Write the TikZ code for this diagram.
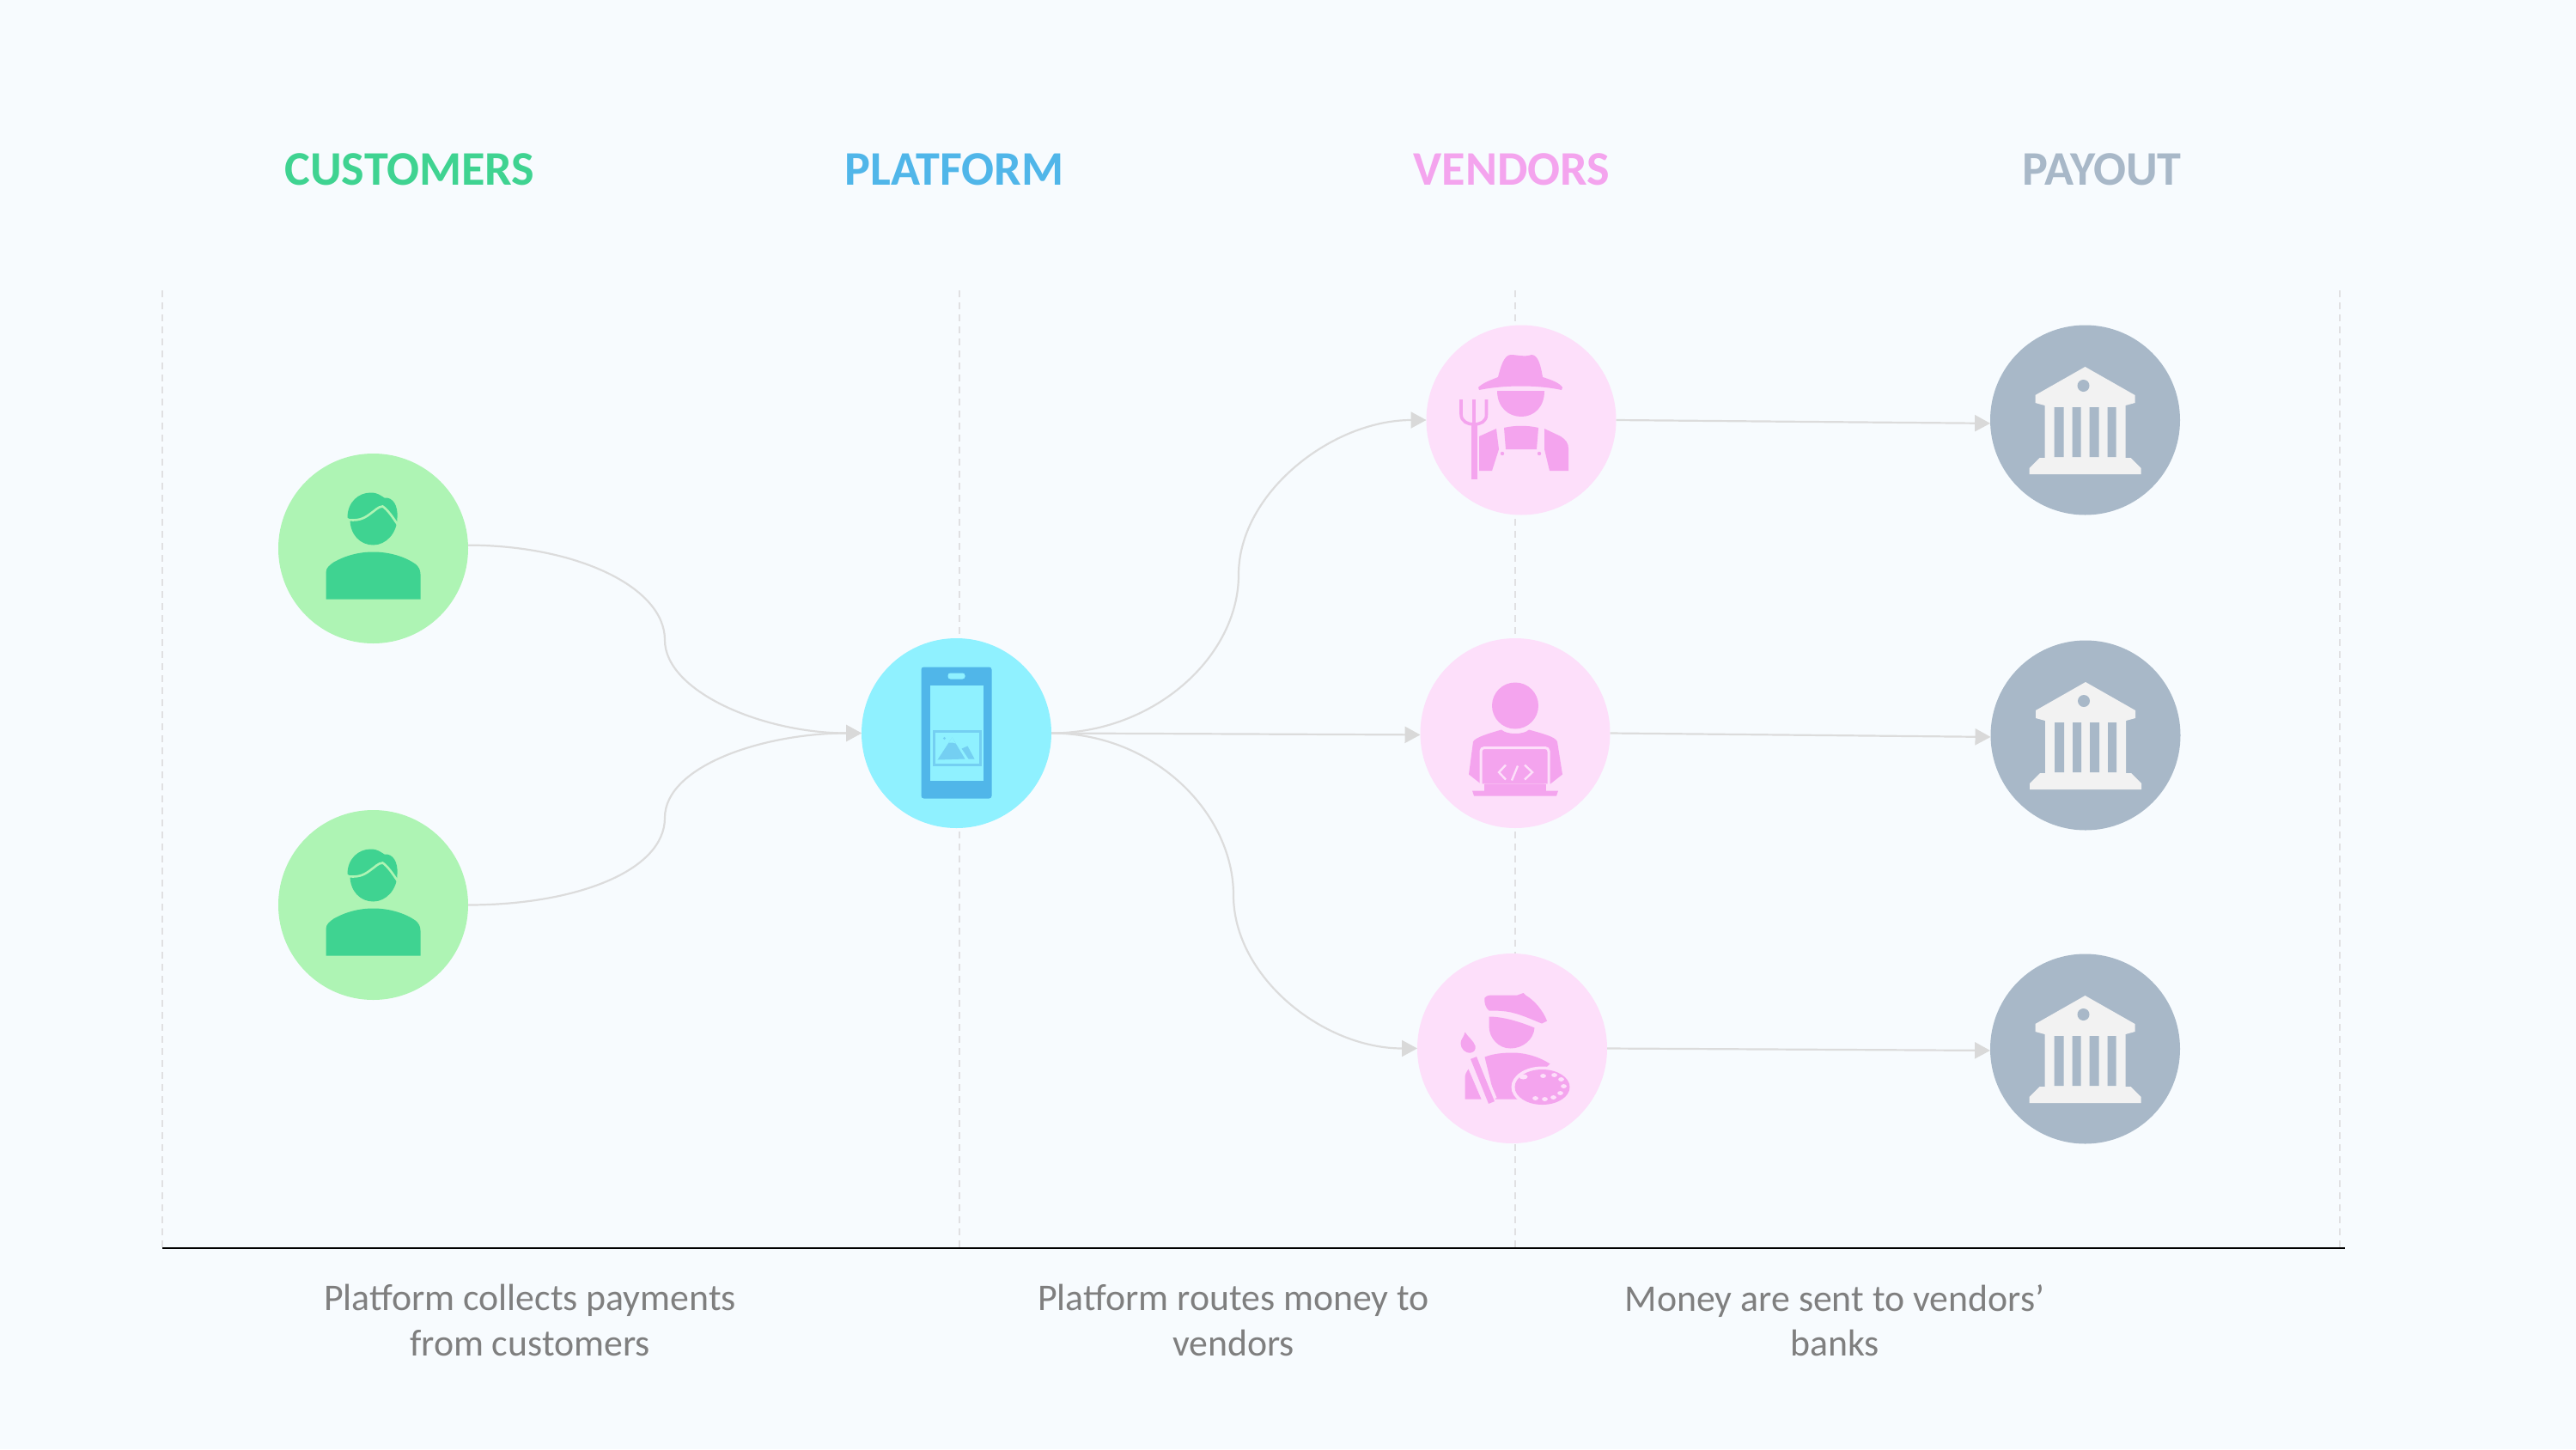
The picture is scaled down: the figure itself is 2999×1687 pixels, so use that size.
\documentclass[tikz,border=0pt]{standalone}
\usepackage{fontspec}
\setmainfont{Carlito}
\usetikzlibrary{arrows.meta,calc}
\definecolor{bgc}{HTML}{F7FBFE}
\definecolor{gcirc}{HTML}{AEF4B4}
\definecolor{gicon}{HTML}{3FD391}
\definecolor{ccirc}{HTML}{8FF1FF}
\definecolor{bicon}{HTML}{50B6E9}
\definecolor{bmid}{HTML}{74CFF2}
\definecolor{pcirc}{HTML}{FDDFFA}
\definecolor{picon}{HTML}{F4A4EE}
\definecolor{slate}{HTML}{A8B8C8}
\definecolor{bankw}{HTML}{F2F2F2}
\definecolor{conn}{HTML}{DCDCDC}
\definecolor{dashc}{HTML}{D9D9D9}
\definecolor{guidec}{HTML}{E0E0E2}
\definecolor{txtc}{HTML}{7F7F7F}
\tikzset{
  disc/.style={circle,minimum size=221pt,inner sep=0pt,outer sep=0pt,fill=#1},
  flow/.style={draw=conn,line width=2.2pt,-{Triangle[length=18pt,width=19pt,color=dashc]}},
  guide/.style={draw=guidec,line width=1.8pt,dash pattern=on 8pt off 6pt},
  head/.style={font=\fontsize{56.2}{60}\selectfont\bfseries,anchor=center},
  note/.style={font=\fontsize{43.8}{52.5}\selectfont,text=txtc,align=center,anchor=center},
  person/.pic={
    \fill[gicon] (-55,59)--(-55,28) .. controls (-55,22) and (-50,19) .. (-46,16)
      .. controls (-32,8) and (-16,4) .. (0,4) .. controls (18,4) and (36,9) .. (49,18)
      .. controls (53,21) and (55,25) .. (55,30) -- (55,59) -- cycle;
    \fill[gicon] (-30,-36) .. controls (-30,-54) and (-17,-65) .. (-3,-65)
      .. controls (5,-65) and (8,-62) .. (13,-59) .. controls (23,-60) and (29,-50) .. (28,-36)
      .. controls (28,-18) and (15,-4) .. (0,-4) .. controls (-15,-4) and (-27,-16) .. (-27,-34) -- cycle;
    \draw[gcirc,line width=2.6pt] (-32,-33.5) .. controls (-18,-32) and (-12,-34) .. (-4,-40)
      .. controls (2,-44) and (6,-49) .. (11,-49) .. controls (17,-45) and (23,-36) .. (29,-27);
  },
  bank/.pic={
    \fill[bankw] (0,-62) -- (58,-29) -- (58,-20) -- (47,-17) -- (47,44) -- (53,44) -- (65,56) -- (65,63)
      -- (-65,63) -- (-65,56) -- (-53,44) -- (-47,44) -- (-47,-17) -- (-58,-20) -- (-58,-29) -- cycle;
    \fill[slate] (-2,-40) circle (7);
    \fill[slate] (-36,-15) rectangle (-25,43) (-15,-15) rectangle (-5,43) (5,-15) rectangle (16,43) (26,-15) rectangle (36,43);
  }
}
\begin{document}
\begin{tikzpicture}[x=1pt,y=-1pt]
\useasboundingbox[fill=bgc] (0,0) rectangle (2999,1687);
% guides
\coordinate (ga) at (189,338); \coordinate (gaa) at (189,1453);
\coordinate (gb) at (1117,338); \coordinate (gbb) at (1117,1453);
\coordinate (gc) at (1764,338); \coordinate (gcc) at (1764,1453);
\coordinate (gd) at (2724,338); \coordinate (gdd) at (2724,1453);
\draw[guide] (ga)--(gaa); \draw[guide] (gb)--(gbb); \draw[guide] (gc)--(gcc); \draw[guide] (gd)--(gdd);
\coordinate (bl) at (189,1453); \coordinate (br) at (2730,1453);
\draw[black,line width=2.6pt] (bl)--(br);
% discs
\node[disc=gcirc] (c1) at (434.5,638.5) {};
\node[disc=gcirc] (c2) at (434.5,1053.5) {};
\node[disc=ccirc] (pf) at (1113.5,853.5) {};
\node[disc=pcirc] (v1) at (1771,489) {};
\node[disc=pcirc] (v2) at (1764,853.5) {};
\node[disc=pcirc] (v3) at (1760.5,1220.5) {};
\node[disc=slate] (b1) at (2427.5,489) {};
\node[disc=slate] (b2) at (2428,856) {};
\node[disc=slate] (b3) at (2427.5,1221) {};
% connectors
\coordinate (k1) at (774,745); \coordinate (k2) at (774,952);
\coordinate (k3) at (1442,669); \coordinate (k4) at (1436,1042);
\draw[flow] (c1.2.3) .. controls +(125,0) and ($(k1)+(0,-62)$) .. (k1) .. controls ($(k1)+(0,60)$) and +(-115,0) .. (pf.west);
\draw[flow] (c2.east) .. controls +(125,0) and ($(k2)+(0,62)$) .. (k2) .. controls ($(k2)+(0,-60)$) and +(-115,0) .. (pf.west);
\draw[flow] (pf.east) .. controls +(120,0) and ($(k3)+(0,95)$) .. (k3) .. controls ($(k3)+(0,-95)$) and +(-110,0) .. (v1.west);
\draw[flow] (pf.east) -- (v2.-179);
\draw[flow] (pf.east) .. controls +(120,0) and ($(k4)+(0,-95)$) .. (k4) .. controls ($(k4)+(0,95)$) and +(-110,0) .. (v3.west);
\draw[flow] (v1.east) -- (b1.-178.5);
\draw[flow] (v2.east) -- (b2.-179);
\draw[flow] (v3.east) -- (b3.-179.5);
% customers
\pic at (c1) {person};
\pic at (c2) {person};
% phone
\begin{scope}[shift={(pf)}]
\fill[bicon,rounded corners=3pt] (-41,-77) rectangle (41,76);
\fill[ccirc] (-31,-56) rectangle (31,55);
\fill[ccirc,rounded corners=3pt] (-10,-70) rectangle (10,-63);
\draw[bmid,line width=3pt] (-26.5,-2.5) rectangle (27.5,37);
\fill[bmid] (-22,31) -- (-5,5) -- (10,30) -- cycle;
\fill[ccirc] (-9,11) -- (-5,5) -- (-1,12) -- (-4,11) -- cycle;
\fill[bmid] (6,18) -- (13,15) -- (21,30) -- (14,30) -- cycle;
\fill[bmid] (-14,6) circle (1.6);
\end{scope}
% farmer
\begin{scope}[shift={(v1)}]
\fill[picon] (-50,-38) .. controls (-44,-44) and (-34,-47) .. (-27,-50) .. controls (-24,-62) and (-20,-76) .. (-12,-76)
  .. controls (-5,-76) and (4,-73) .. (12,-76) .. controls (20,-76) and (23,-62) .. (25,-50)
  .. controls (34,-47) and (44,-44) .. (48,-38) -- (47,-35) .. controls (20,-41) and (-20,-41) .. (-49,-35) -- cycle;
\fill[picon] (-28,-34) -- (27,-34) .. controls (27,-15) and (15,-4) .. (0,-4) .. controls (-15,-4) and (-28,-15) .. (-28,-34) -- cycle;
\fill[picon] (-20,9) .. controls (-8,6) and (8,6) .. (20,9) -- (18,34) -- (-18,34) -- cycle;
\fill[picon] (-29,10) -- (-26,34) -- (-34,59) -- (-49,59) -- (-49,19) -- cycle;
\fill[picon] (27,10) -- (46,19) .. controls (52,23) and (55,27) .. (55,33) -- (55,59) -- (33,59) -- (27,34) -- cycle;
\fill[picon] (-22,39) circle (2.2) (21,39) circle (2.2);
\draw[picon,line width=3.6pt] (-70,-24) -- (-70,-7) .. controls (-70,2) and (-62,5) .. (-55,5) .. controls (-48,5) and (-40,2) .. (-40.5,-7) -- (-40.5,-24);
\draw[picon,line width=4pt] (-55,-24) -- (-55,8);
\draw[picon,line width=7pt] (-55,5) -- (-55,69);
\end{scope}
% developer
\begin{scope}[shift={(v2)}]
\fill[picon] (0,-32) circle (27);
\fill[picon] (-54,48) -- (-49,10) .. controls (-47,5) and (-30,0) .. (-16,-4) .. controls (-10,2) and (10,2) .. (16,-4)
  .. controls (30,0) and (47,4) .. (49,10) -- (55,48) -- (41,59) -- (-40,59) -- cycle;
\draw[pcirc,line width=3pt,rounded corners=4pt] (-40,63) -- (-40,17) -- (39,17) -- (39,63);
\fill[pcirc] (-41.5,59) rectangle (-35,67) (34,59) rectangle (41,67);
\fill[picon] (-36,59) rectangle (36,67);
\fill[picon] (-50,67) -- (50,67) -- (48,73) -- (-48,73) -- cycle;
\draw[pcirc,line width=2.4pt] (-11,37) -- (-19,45.5) -- (-11,54) (3,38) -- (-4,55) (11,37) -- (20,45.5) -- (11,54);
\end{scope}
% artist
\begin{scope}[shift={(v3)}]
\fill[picon] (-32,-59) .. controls (-29,-62) and (-26,-62) .. (-24,-62) -- (6,-62) -- (13,-64.5) -- (15.5,-62)
  .. controls (26,-56) and (36,-44) .. (40.5,-32) -- (34.5,-29) .. controls (24,-33) and (8,-41) .. (-7,-43)
  .. controls (-14,-44) and (-22,-44) .. (-27,-44) .. controls (-31,-47) and (-33,-54) .. (-32,-59) -- cycle;
\fill[picon] (-27,-37) .. controls (-8,-37) and (14,-29) .. (26,-24) .. controls (25,-10) and (12,0) .. (-2,0) .. controls (-16,0) and (-27,-12) .. (-27,-26) -- cycle;
\fill[picon] (-32,10) .. controls (-22,6) and (-10,5) .. (0,5) .. controls (16,5) and (32,10) .. (44,18) -- (20,40) -- (8,59) -- (-20,59) -- cycle;
\fill[picon] (-55,59) -- (-55,34) .. controls (-55,30) and (-53,27) .. (-51,24) -- (-36,59) -- cycle;
\draw[pcirc,line width=13pt] (-46,8) -- (-24,60);
\draw[picon,line width=7.5pt] (-45,11) -- (-24,63);
\fill[picon] (-55,-19) .. controls (-52,-14) and (-45,-9) .. (-43,-3) .. controls (-42,1) and (-44,4) .. (-48,5) .. controls (-55,6) and (-60,0) .. (-60,-6) .. controls (-60,-11) and (-56,-13) .. (-55,-19) -- cycle;
\fill[pcirc] (35,45) ellipse (36 and 24);
\fill[picon] (35,45) ellipse (32 and 20.5);
\fill[pcirc] (13,33) ellipse (5 and 3);
\foreach \dx/\dy in {36/32,49/31,57/36,60/44,56/52,48/57,38/59,27/58}{\fill[pcirc] (\dx,\dy) ellipse (3.4 and 2.4);}
\end{scope}
% banks
\pic at (b1) {bank};
\pic at (b2) {bank};
\pic at (b3) {bank};
% text
\node[head,text=gicon] (t1) at (477,197) {CUSTOMERS};
\node[head,text=bicon] (t2) at (1111,197) {PLATFORM};
\node[head,text=picon] (t3) at (1760,197) {VENDORS};
\node[head,text=slate] (t4) at (2447,197) {PAYOUT};
\node[note] (n1) at (617,1537) {Platform collects payments\\from customers};
\node[note] (n2) at (1436,1537) {Platform routes money to\\vendors};
\node[note] (n3) at (2136,1537) {Money are sent to vendors’\\banks};
\end{tikzpicture}
\end{document}
